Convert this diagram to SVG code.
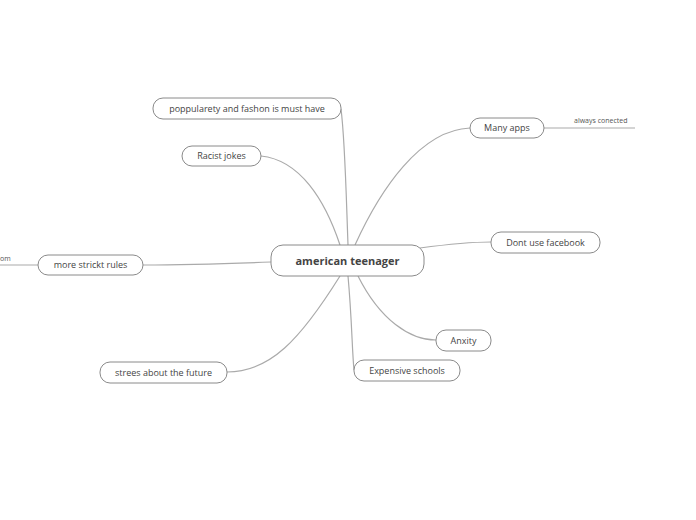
<svg xmlns="http://www.w3.org/2000/svg" width="696" height="520" viewBox="0 0 696 520">
<style>
.n rect{fill:#fff;stroke:#8a8a8a;stroke-width:1}
.n text{font-family:"Open Sans","Noto Sans",sans-serif;font-size:9px;fill:#444;text-anchor:middle}
.c path{fill:none;stroke:#aaa;stroke-width:1.2}
.s{font-family:"Open Sans","Noto Sans",sans-serif;font-size:7px;fill:#555}
</style>
<rect width="696" height="520" fill="#fff"/>
<g class="c">
<path d="M348,245 C346,190 345,140 341,109"/>
<path d="M340,245 C325,200 300,160 261,156"/>
<path d="M355,245 C380,190 420,130 470,128"/>
<path d="M420,248 C450,244 470,242 491,242"/>
<path d="M271,262 C220,264 180,265 143,265"/>
<path d="M358,276 C380,320 410,340 436,340"/>
<path d="M348,276 C352,320 352,350 354,370"/>
<path d="M340,276 C300,340 270,372 227,372"/>
<path d="M544,128 L635,128"/>
<path d="M0,265 L38,265"/>
</g>
<g id="center" class="n"><rect x="271" y="245" width="153" height="31" rx="12"/><text x="347.5" y="265" style="font-size:11px;font-weight:bold">american teenager</text></g>
<g id="n1" class="n"><rect x="153" y="98" width="188" height="21" rx="10"/><text x="247" y="112">poppularety and fashon is must have</text></g>
<g id="n2" class="n"><rect x="182" y="146" width="79" height="20" rx="10"/><text x="221.5" y="159">Racist jokes</text></g>
<g id="n3" class="n"><rect x="470" y="118" width="74" height="20" rx="10"/><text x="507" y="131">Many apps</text></g>
<g id="n4" class="n"><rect x="491" y="232" width="109" height="21" rx="10"/><text x="545.5" y="246">Dont use facebook</text></g>
<g id="n5" class="n"><rect x="38" y="255" width="105" height="20" rx="10"/><text x="90.5" y="268">more strickt rules</text></g>
<g id="n6" class="n"><rect x="436" y="330" width="55" height="21" rx="10"/><text x="463.5" y="344">Anxity</text></g>
<g id="n7" class="n"><rect x="354" y="360" width="106" height="21" rx="10"/><text x="407" y="374">Expensive schools</text></g>
<g id="n8" class="n"><rect x="100" y="362" width="127" height="21" rx="10"/><text x="163.5" y="376">strees about the future</text></g>
<text class="s" x="574" y="123">always conected</text>
<text class="s" x="0" y="261">om</text>
</svg>
